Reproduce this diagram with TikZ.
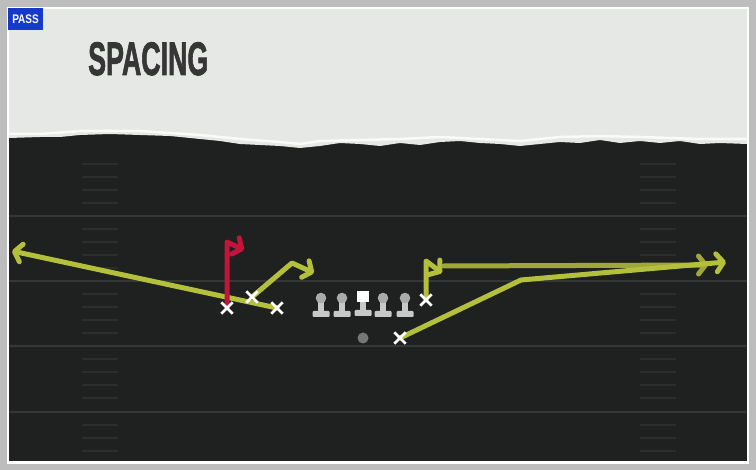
\documentclass[tikz,border=0pt]{standalone}
\usepackage{fontspec}
\usepackage{graphicx}
\setmainfont{Liberation Sans}
\usetikzlibrary{arrows.meta,shapes.misc}
\definecolor{frame}{HTML}{BDBDBD}
\definecolor{field}{HTML}{1E211F}
\definecolor{paper}{HTML}{E6E8E5}
\definecolor{yardline}{HTML}{343734}
\definecolor{hashc}{HTML}{2B2E2B}
\definecolor{routec}{HTML}{B4C03C}
\definecolor{routedim}{HTML}{9FA73A}
\definecolor{redroute}{HTML}{C4143C}
\definecolor{badge}{HTML}{1639C9}
\definecolor{titlec}{HTML}{363636}
\definecolor{linem}{HTML}{C8C8C8}
\definecolor{qbc}{HTML}{767676}
\tikzset{
  route/.style={line width=5pt, line join=round, line cap=round, draw=routec,
    -{Straight Barb[length=7pt,width=18pt,round]}},
  xmark/.style={cross out, draw=white, line width=2.8pt, minimum size=8.5pt, inner sep=0pt},
  lineman/.pic={
    \fill[linem] (-2.8,0) rectangle (2.8,15);
    \fill[linem, rounded corners=1pt] (-8.5,13) rectangle (8.5,19);
    \fill[linem!85!black] (0,0) circle (5.3);
  },
  centerman/.pic={
    \fill[linem] (-2.8,0) rectangle (2.8,15);
    \fill[linem, rounded corners=1pt] (-8.5,13) rectangle (8.5,19);
    \fill[white] (-6,-6) rectangle (6,5);
  }
}
\begin{document}
\begin{tikzpicture}[x=1pt,y=-1pt]
\useasboundingbox (0,0) rectangle (756,470);
% frame
\fill[frame] (0,0) rectangle (756,470);
\fill[white] (7,7) rectangle (749,464);
\fill[field] (9,9) rectangle (747,461);
% paper with torn edge
\fill[paper] (9,9) -- (747,9) -- (747,144) -- (720,143) -- (700,144) -- (680,141) -- (660,143) -- (640,141) -- (620,143) -- (600,140) -- (580,143) -- (560,142) -- (540,144) -- (520,146) -- (500,144) -- (480,143) -- (460,141) -- (440,142) -- (420,145) -- (400,143) -- (380,146) -- (360,144) -- (340,143) -- (320,146) -- (300,148) -- (280,146) -- (260,145) -- (240,144) -- (220,141) -- (200,139) -- (170,136) -- (140,135) -- (110,134) -- (80,135) -- (60,137) -- (40,137) -- (9,138) -- cycle;
\draw[white, line width=2.5pt, opacity=0.8, line join=round] (9,134) -- (40,134) -- (80,131) -- (140,131) -- (200,135) -- (240,139) -- (280,142) -- (300,144) -- (320,141) -- (360,140) -- (400,139) -- (440,137) -- (480,139) -- (520,141) -- (560,137) -- (600,136) -- (640,137) -- (700,139) -- (747,139);
% yard lines
\foreach \y in {216,281,346,412} \draw[yardline, line width=1.4pt] (9,\y) -- (747,\y);
% hash marks
\foreach \y in {164,177,190,203,229,242,255,268,294,307,320,333,359,372,385,398,425,438,451} {
  \draw[hashc, line width=1.2pt] (82,\y) -- (118,\y);
  \draw[hashc, line width=1.2pt] (640,\y) -- (676,\y);
}
% badge and title
\node[fill=badge, minimum width=35pt, minimum height=22pt, inner sep=0pt] (badge) at (25.5,19) {};
\node[text=white, inner sep=0pt] (pass) at (25.5,19.5) {\fontsize{12.5}{12.5}\selectfont\bfseries\scalebox{0.8}[1]{PASS}};
\node[text=titlec, anchor=base west, inner sep=0pt] (title) at (88,75) {\fontsize{47}{47}\selectfont\bfseries\addfontfeature{FakeBold=2}\scalebox{0.57}[1]{SPACING}};
% player positions
\coordinate (p1) at (227,308);
\coordinate (p2) at (252,297);
\coordinate (p3) at (277,308);
\coordinate (p6) at (426,300);
\coordinate (p7) at (400,338);
\coordinate (lend) at (12,251);
\coordinate (hstart) at (444,266);
\coordinate (hend) at (708,265);
% routes
\draw[route] (p3) -- (lend);
\draw[route] (p2) -- (292,263) -- (314,273);
\draw[route, draw=redroute] (p1) -- (227,242) -- (244,250);
\draw[route] (p6) -- (426,261) -- (442,273);
\draw[route, draw=routedim] (hstart) -- (hend);
\draw[route] (p7) -- (521,280) -- (726,262);
% linemen
\pic (l1) at (321,298) {lineman};
\pic (l2) at (342,298) {lineman};
\pic (c) at (363,297) {centerman};
\pic (l4) at (383,298) {lineman};
\pic (l5) at (405,298) {lineman};
\node[circle, fill=qbc, minimum size=11pt, inner sep=0pt] (qb) at (363,338) {};
% receivers
\node[xmark] (x1) at (p1) {};
\node[xmark] (x2) at (p2) {};
\node[xmark] (x3) at (p3) {};
\node[xmark] (x6) at (p6) {};
\node[xmark] (x7) at (p7) {};
\end{tikzpicture}
\end{document}
